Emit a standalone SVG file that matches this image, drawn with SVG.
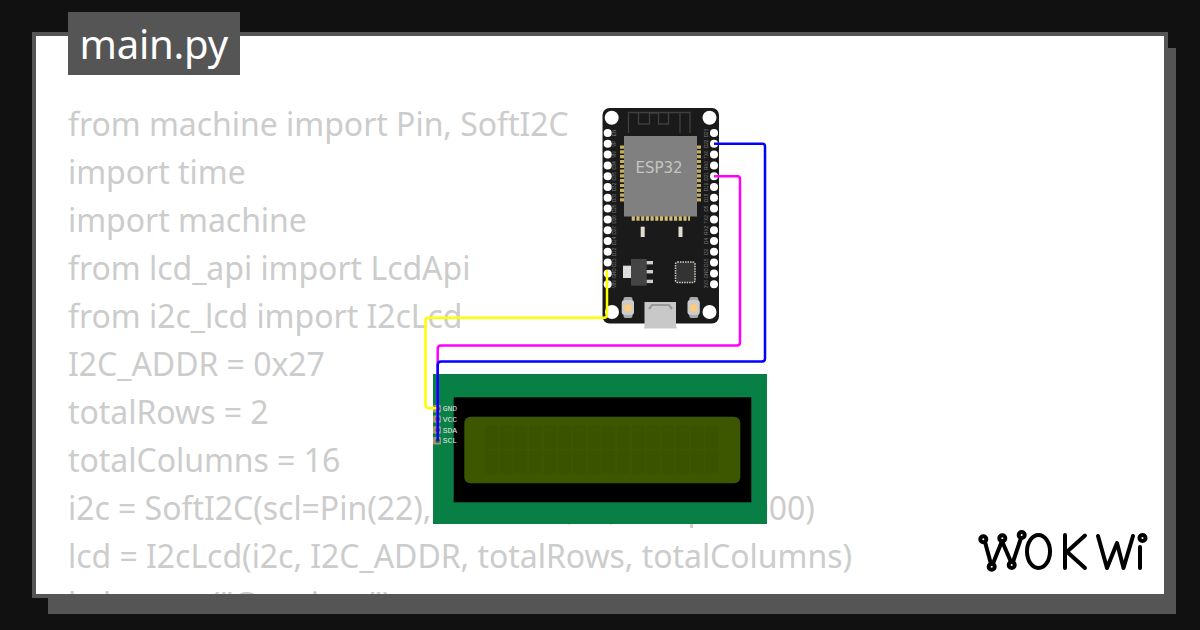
<svg xmlns="http://www.w3.org/2000/svg" width="1200" height="630" viewBox="0 0 1200 630">
<style>
.code{font-family:"Noto Sans","Open Sans",sans-serif;font-size:32px;fill:#ccc;letter-spacing:-0.04px}
.pin{fill:#fff}
.pl{font-family:"Liberation Sans",sans-serif;font-size:4.6px;fill:#7a7a7a;text-anchor:middle}
.lp{font-family:"Liberation Mono",monospace;font-size:8px;fill:#e4e4e4}
.wire{fill:none;stroke-width:2.5;stroke-linejoin:round}
.cell{fill:#395300}
.pad{fill:#a3966a}
.hole{fill:#1f6a45}
.mount{fill:#fff}
</style>
<defs>
<clipPath id="c"><rect x="36" y="36" width="1128" height="558"/></clipPath>
<g id="row"><rect class="cell" x="0" y="0" width="12.700" height="23.300"/><rect class="cell" x="14.700" y="0" width="12.700" height="23.300"/><rect class="cell" x="29.400" y="0" width="12.700" height="23.300"/><rect class="cell" x="44.100" y="0" width="12.700" height="23.300"/><rect class="cell" x="58.800" y="0" width="12.700" height="23.300"/><rect class="cell" x="73.500" y="0" width="12.700" height="23.300"/><rect class="cell" x="88.200" y="0" width="12.700" height="23.300"/><rect class="cell" x="102.900" y="0" width="12.700" height="23.300"/><rect class="cell" x="117.600" y="0" width="12.700" height="23.300"/><rect class="cell" x="132.300" y="0" width="12.700" height="23.300"/><rect class="cell" x="147" y="0" width="12.700" height="23.300"/><rect class="cell" x="161.700" y="0" width="12.700" height="23.300"/><rect class="cell" x="176.400" y="0" width="12.700" height="23.300"/><rect class="cell" x="191.100" y="0" width="12.700" height="23.300"/><rect class="cell" x="205.800" y="0" width="12.700" height="23.300"/><rect class="cell" x="220.500" y="0" width="12.700" height="23.300"/></g>
</defs>
<rect width="1200" height="630" fill="#111"/>
<rect x="48" y="48" width="1128" height="566" fill="#555"/>
<rect x="34" y="34" width="1132" height="562" fill="#fff" stroke="#555" stroke-width="4"/>
<g id="code" clip-path="url(#c)">
<text class="code" x="68" y="136">from machine import Pin, SoftI2C</text>
<text class="code" x="68" y="184">import time</text>
<text class="code" x="68" y="232">import machine</text>
<text class="code" x="68" y="280">from lcd_api import LcdApi</text>
<text class="code" x="68" y="328">from i2c_lcd import I2cLcd</text>
<text class="code" x="68" y="376">I2C_ADDR = 0x27</text>
<text class="code" x="68" y="424">totalRows = 2</text>
<text class="code" x="68" y="472">totalColumns = 16</text>
<text class="code" x="68" y="520">i2c = SoftI2C(scl=Pin(22), <tspan dx="4">sda=Pin(21), freq=10000)</tspan></text>
<text class="code" x="68" y="568">lcd = I2cLcd(i2c, I2C_ADDR, totalRows, totalColumns)</text>
<text class="code" x="68" y="616">lcd.putstr("<tspan letter-spacing="-1.200">Greetings</tspan>")</text>
</g>
<g id="title">
<rect x="68" y="12" width="172" height="63" fill="#555"/>
<text x="79.500" y="59" font-family="Noto Sans,Open Sans,sans-serif" font-size="40" letter-spacing="-0.200" fill="#fff">main.py</text>
</g>
<g id="esp32">
<rect x="602.500" y="108" width="116.500" height="215.500" rx="7" fill="#1a1a1a"/>
<path d="M628.500 133V112.500H690V133M638.500 113V124H649.500V113H658.500V124H668.500V113M680 113V133" fill="none" stroke="#404040" stroke-width="1.300"/>
<circle class="mount" cx="611.700" cy="117.700" r="7"/><circle class="mount" cx="709.500" cy="117.700" r="7"/>
<circle class="mount" cx="612" cy="312" r="7"/><circle class="mount" cx="709.500" cy="312" r="7"/>
<g id="pins-left" class="pin">
<circle cx="607.700" cy="133" r="4"/><circle cx="607.700" cy="143.800" r="4"/><circle cx="607.700" cy="154.600" r="4"/><circle cx="607.700" cy="165.400" r="4"/><circle cx="607.700" cy="176.200" r="4"/><circle cx="607.700" cy="187" r="4"/><circle cx="607.700" cy="197.800" r="4"/><circle cx="607.700" cy="208.600" r="4"/><circle cx="607.700" cy="219.400" r="4"/><circle cx="607.700" cy="230.200" r="4"/><circle cx="607.700" cy="241" r="4"/><circle cx="607.700" cy="251.800" r="4"/><circle cx="607.700" cy="262.600" r="4"/><circle cx="607.700" cy="273.400" r="4"/><circle cx="607.700" cy="284.200" r="4"/>
</g>
<g id="pins-right" class="pin">
<circle cx="714" cy="133" r="4"/><circle cx="714" cy="143.800" r="4"/><circle cx="714" cy="154.600" r="4"/><circle cx="714" cy="165.400" r="4"/><circle cx="714" cy="176.200" r="4"/><circle cx="714" cy="187" r="4"/><circle cx="714" cy="197.800" r="4"/><circle cx="714" cy="208.600" r="4"/><circle cx="714" cy="219.400" r="4"/><circle cx="714" cy="230.200" r="4"/><circle cx="714" cy="241" r="4"/><circle cx="714" cy="251.800" r="4"/><circle cx="714" cy="262.600" r="4"/><circle cx="714" cy="273.400" r="4"/><circle cx="714" cy="284.200" r="4"/>
</g>
<g id="pin-labels-left" class="pl">
<text transform="translate(616 133) rotate(-90)">EN</text><text transform="translate(616 143.800) rotate(-90)">VP</text><text transform="translate(616 154.600) rotate(-90)">VN</text><text transform="translate(616 165.400) rotate(-90)">D34</text><text transform="translate(616 176.200) rotate(-90)">D35</text><text transform="translate(616 187) rotate(-90)">D32</text><text transform="translate(616 197.800) rotate(-90)">D33</text><text transform="translate(616 208.600) rotate(-90)">D25</text><text transform="translate(616 219.400) rotate(-90)">D26</text><text transform="translate(616 230.200) rotate(-90)">D27</text><text transform="translate(616 241) rotate(-90)">D14</text><text transform="translate(616 251.800) rotate(-90)">D12</text><text transform="translate(616 262.600) rotate(-90)">D13</text><text transform="translate(616 273.400) rotate(-90)">GND</text><text transform="translate(616 284.200) rotate(-90)">VIN</text>
</g>
<g id="pin-labels-right" class="pl">
<text transform="translate(708 133) rotate(-90)">D23</text><text transform="translate(708 143.800) rotate(-90)">D22</text><text transform="translate(708 154.600) rotate(-90)">TX0</text><text transform="translate(708 165.400) rotate(-90)">RX0</text><text transform="translate(708 176.200) rotate(-90)">D21</text><text transform="translate(708 187) rotate(-90)">D19</text><text transform="translate(708 197.800) rotate(-90)">D18</text><text transform="translate(708 208.600) rotate(-90)">D5</text><text transform="translate(708 219.400) rotate(-90)">TX2</text><text transform="translate(708 230.200) rotate(-90)">RX2</text><text transform="translate(708 241) rotate(-90)">D4</text><text transform="translate(708 251.800) rotate(-90)">D2</text><text transform="translate(708 262.600) rotate(-90)">D15</text><text transform="translate(708 273.400) rotate(-90)">GND</text><text transform="translate(708 284.200) rotate(-90)">3V3</text>
</g>
<rect x="624" y="136" width="73" height="80.500" fill="#808080"/>
<text x="659" y="173" text-anchor="middle" font-family="DejaVu Sans,sans-serif" font-size="15" fill="#c4c4c4">ESP32</text>
<path d="M622 145.500V203M699 145.500V203" stroke="#c4ae62" stroke-width="4" stroke-dasharray="3.200 1.600" fill="none"/>
<path d="M631.700 218.500H690" stroke="#d2bd78" stroke-width="4.500" stroke-dasharray="3.200 1.500" fill="none"/>
<rect x="640.700" y="226.700" width="4" height="10.300" fill="#e0ddd0"/><rect x="678.500" y="226.700" width="4" height="10.300" fill="#e0ddd0"/>
<rect x="631" y="259" width="15.700" height="26.700" fill="#444"/><rect x="623" y="265.700" width="8" height="12.300" fill="#ddd"/>
<rect x="646.700" y="261" width="6.300" height="3.400" fill="#ccc"/><rect x="646.700" y="270" width="6.300" height="3.400" fill="#ccc"/><rect x="646.700" y="279.700" width="6.300" height="3.400" fill="#ccc"/>
<rect x="675.500" y="262" width="19.500" height="20.500" rx="2" fill="#333" stroke="#ccc" stroke-dasharray="1.500 1" stroke-width="1.500"/>
<rect x="623.500" y="297" width="9" height="21" rx="2" fill="#aaa"/><rect x="621.700" y="300" width="12.300" height="15" rx="3" fill="#ccc"/><circle cx="628" cy="308" r="3.700" fill="#fc7"/>
<rect x="689.300" y="297" width="9" height="21" rx="2" fill="#aaa"/><rect x="687.500" y="300" width="12.300" height="15" rx="3" fill="#ccc"/><circle cx="693.700" cy="308" r="3.700" fill="#fc7"/>
<path d="M644.500 302H676V325L677 328.500H644L644.500 325Z" fill="#c8c8c8"/>
<path d="M649 309L652 305H669L672 309" fill="none" stroke="#999" stroke-width="2.200"/>
</g>
<g id="lcd">
<rect x="433" y="374" width="334" height="150" fill="#087f45"/>
<rect x="453.700" y="397.300" width="297.600" height="105" fill="#000"/>
<rect x="464.300" y="416.700" width="276" height="66.600" rx="6" fill="#3d5700"/>
<use href="#row" x="485" y="425.700"/><use href="#row" x="485" y="450.500"/>
<rect class="pad" x="433" y="405" width="8" height="7.400" rx="1"/><rect class="pad" x="433" y="415.400" width="8" height="7.400" rx="1"/><rect class="pad" x="433" y="426.300" width="8" height="7.400" rx="1"/><rect class="pad" x="433" y="437" width="8" height="7.400" rx="1"/>
<circle class="hole" cx="437.700" cy="408.700" r="2.300"/><circle class="hole" cx="437.700" cy="419.100" r="2.300"/><circle class="hole" cx="437.700" cy="430" r="2.300"/><circle class="hole" cx="437.700" cy="440.700" r="2.300"/>
<text class="lp" x="442.700" y="411.300">GND</text><text class="lp" x="442.700" y="421.800">VCC</text><text class="lp" x="442.700" y="432.500">SDA</text><text class="lp" x="442.700" y="443">SCL</text>
</g>
<g id="connectors">
<path class="wire" stroke="#ff0" d="M607 270V315Q607 317.700 604 317.700H428Q425.500 317.700 425.500 320V405Q425.500 408.200 429 408.200H437.500"/>
<path class="wire" stroke="#f0f" d="M714 176.200H737.500Q740 176.200 740 179V342.500Q740 345.500 737 345.500H441Q437.700 345.500 437.700 349V430"/>
<path class="wire" stroke="#00f" d="M714 143.800H762.500Q765 143.800 765 146.500V358.500Q765 361.500 762 361.500H441Q437.700 361.500 437.700 365V440.700"/>
</g>
<g id="logo" fill="none" stroke="#000" stroke-width="4" stroke-linecap="round" stroke-linejoin="round">
<circle cx="983.300" cy="539.300" r="3"/><circle cx="1002.300" cy="538.300" r="3"/><circle cx="1021.700" cy="535" r="3"/><circle cx="991.700" cy="566.700" r="3"/><circle cx="1011.700" cy="565" r="3"/>
<path d="M985 542L991 564M993 563.500L1002 541L1011 562M1013 562L1021 538"/>
<ellipse cx="1038.500" cy="551.500" rx="11.500" ry="16.500"/>
<path d="M1065 535V568M1085 535.500L1067 551.700L1085 568"/>
<path d="M1098 536L1107 568L1117 543L1123.500 568L1133 536"/>
<path d="M1140 547V568"/><circle cx="1142.500" cy="538" r="3"/>
</g>
</svg>
